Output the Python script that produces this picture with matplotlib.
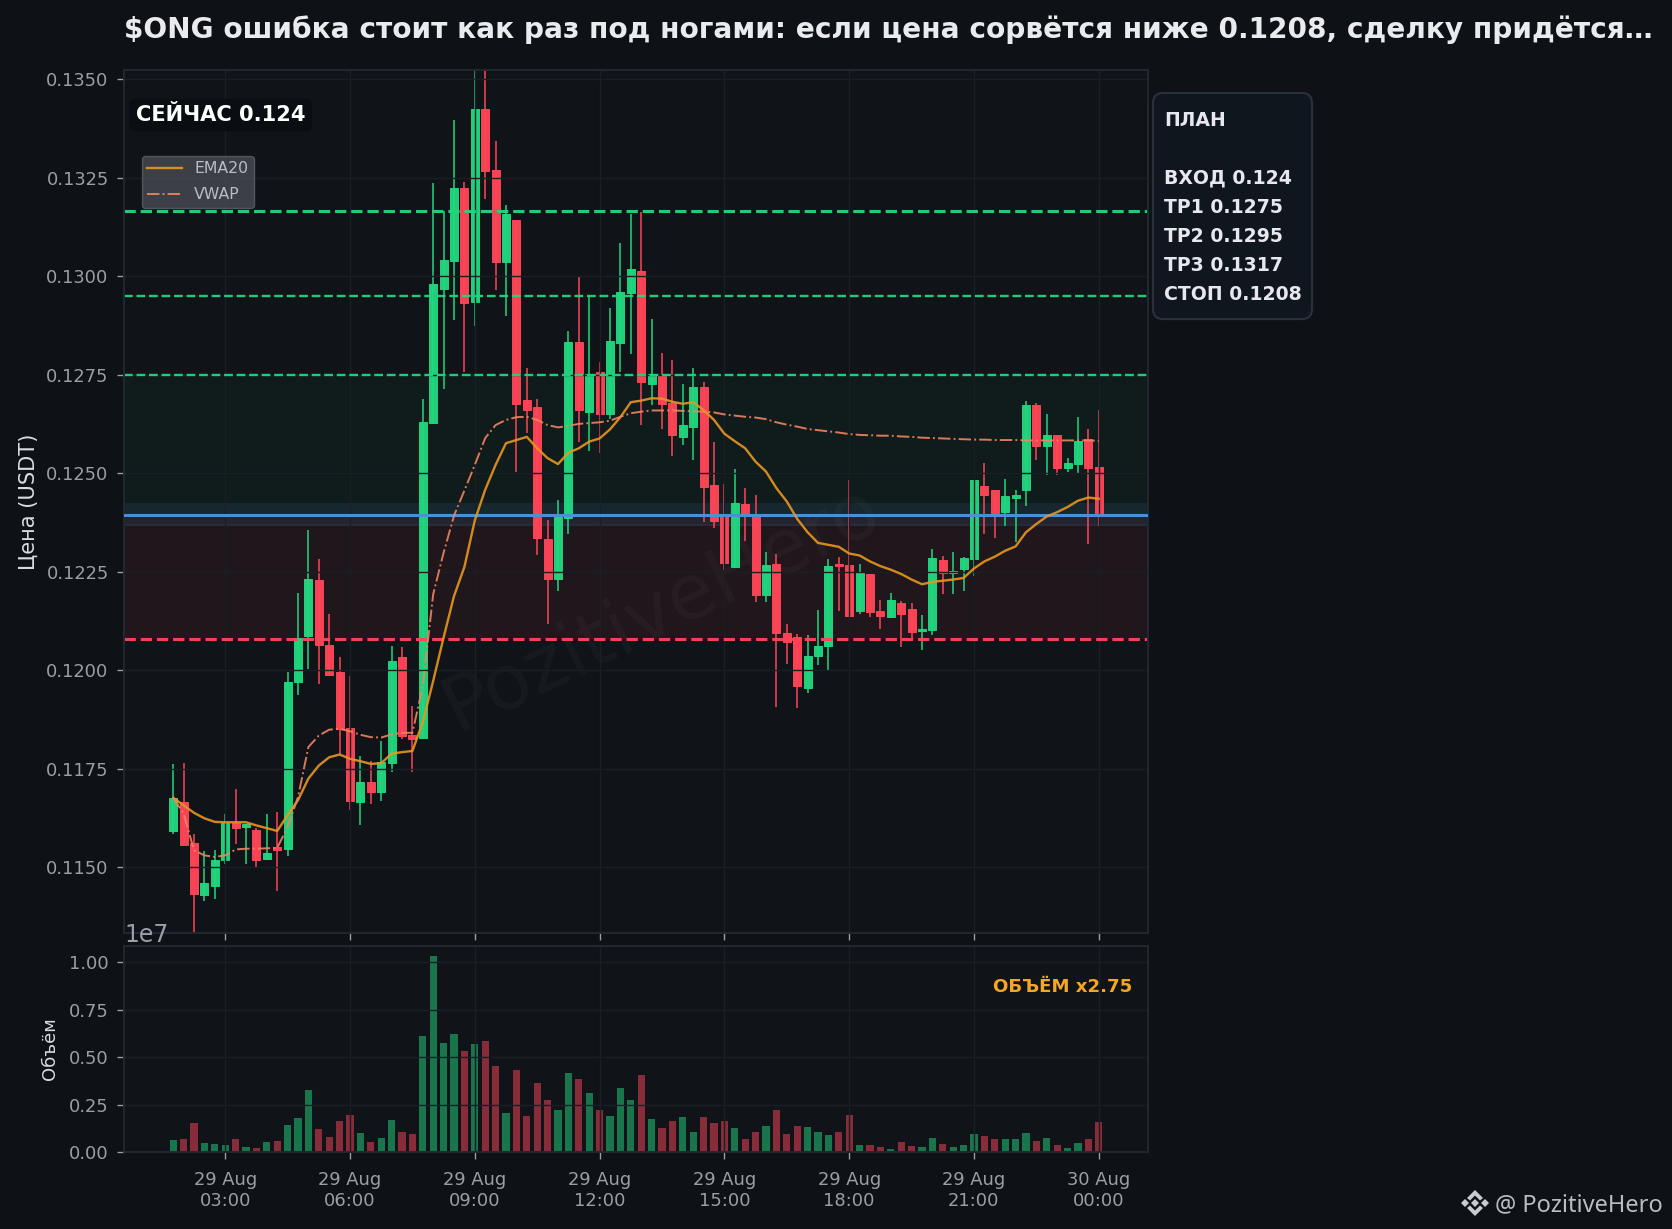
import pandas as pd
import matplotlib
matplotlib.use("Agg")
import matplotlib.pyplot as plt
import matplotlib.dates as mdates
from matplotlib.patches import Polygon, FancyBboxPatch
from matplotlib.transforms import IdentityTransform

# -------------------------
# Data
# -------------------------
start_time = "2025-08-29 01:45"
n_bars = 90

opens = [.11592, .11665, .11562, .1143, .11453, .11517, .11613, .11602, .11595, .11521,
         .11551, .11545, .1197, .12086, .12228, .12064, .11996, .11854, .11665, .11717,
         .11691, .11764, .12033, .11836, .11827, .12627, .12968, .13038, .13224, .12935,
         .13424, .1327, .13036, .13143, .12685, .12667, .12334, .12232, .12387, .12832,
         .12656, .12757, .12649, .12831, .12957, .13014, .12727, .12746, .12677, .12591,
         .12618, .12718, .1247, .12395, .12261, .12422, .12394, .1219, .1227, .12095,
         .12083, .11955, .12037, .12062, .1227, .12267, .1215, .12244, .12151, .12135,
         .12171, .12156, .12099, .12102, .1228, .12246, .12257, .12281, .12467, .12457,
         .12401, .12437, .12456, .12672, .1257, .12596, .12512, .12522, .12586, .12515]
highs = [.11762, .11765, .11583, .1154, .11543, .11636, .11699, .1161, .116, .11636,
         .11639, .11995, .12195, .12355, .12282, .12142, .12033, .11985, .11783, .11769,
         .11819, .12061, .12059, .11909, .12687, .13237, .13165, .13395, .13239, .1358,
         .1358, .13344, .13181, .13143, .12766, .12687, .1238, .12433, .1286, .12999,
         .12949, .12781, .1292, .13085, .13157, .13163, .1289, .12804, .12787, .12726,
         .12768, .12731, .12579, .12472, .1251, .12463, .12445, .123, .12295, .12116,
         .12093, .12088, .12153, .12282, .12287, .12482, .1227, .12244, .12178, .12196,
         .12176, .12171, .1214, .12308, .1229, .123, .12287, .12482, .12525, .12457,
         .12485, .12457, .12682, .12677, .12649, .12596, .12538, .12642, .12611, .1266]
lows = [.11585, .11557, .11336, .11415, .1142, .11508, .11559, .11508, .11501, .11521,
        .1144, .11529, .11936, .12002, .11964, .11987, .11786, .11644, .11606, .1166,
        .11667, .11741, .11825, .11741, .11827, .12627, .12714, .12889, .12757, .12874,
        .13195, .12964, .12898, .12502, .12603, .12291, .12118, .12201, .12345, .12579,
        .12555, .12552, .12638, .12757, .12802, .12622, .12673, .12612, .12544, .12572,
        .12534, .12375, .12362, .12253, .12261, .12327, .12172, .12172, .11906, .12015,
        .11903, .11942, .12012, .11998, .1215, .12137, .12142, .12135, .12104, .12132,
        .12059, .12079, .12051, .12089, .12192, .12194, .122, .12238, .12346, .12336,
        .12367, .12324, .12416, .12534, .12496, .12496, .12503, .12501, .12319, .12365]
closes = [.11676, .11557, .11433, .11459, .11519, .11613, .116, .11609, .11519, .11537,
          .11544, .1197, .12082, .12231, .12063, .11987, .11851, .11668, .11717, .11691,
          .11766, .12023, .11833, .11825, .12629, .12979, .13042, .13224, .12932, .13424,
          .13266, .13036, .13158, .12676, .12659, .12336, .12232, .12388, .12832, .12659,
          .12752, .12649, .12836, .1296, .13017, .1273, .12752, .12676, .12598, .12622,
          .12718, .12466, .12378, .12272, .12423, .12394, .1219, .12267, .12094, .12071,
          .1196, .12037, .12062, .12265, .12264, .12137, .12247, .12147, .12138, .12178,
          .12142, .12097, .12105, .12285, .12247, .12251, .12285, .12482, .12444, .12399,
          .12442, .12444, .12672, .1257, .12596, .12512, .12525, .12581, .12512, .12396]

# volume, in units of 1e7
volumes = [.0615, .067, .151, .046, .04, .035, .067, .025, .019, .051,
           .056, .141, .178, .325, .12, .077, .162, .193, .098, .051,
           .072, .167, .104, .093, .61, 1.032, .573, .62, .531, .568,
           .583, .452, .204, .431, .188, .362, .272, .22, .415, .383,
           .309, .22, .188, .336, .272, .404, .172, .125, .162, .183,
           .104, .183, .151, .162, .125, .067, .104, .135, .22, .093,
           .135, .13, .104, .088, .104, .193, .035, .035, .025, .014,
           .051, .03, .025, .072, .04, .025, .035, .093, .082, .067,
           .067, .067, .098, .056, .072, .035, .019, .046, .067, .156]

ema20 = [.11676, .11657, .11638, .11624, .11615, .11614, .11614, .11614, .11606, .11599,
         .11592, .11632, .1167, .11725, .11758, .11779, .11786, .11775, .11769, .11762,
         .11764, .11788, .11792, .11795, .11868, .11973, .12083, .12188, .12262, .12380,
         .12458, .12521, .12576, .12584, .12592, .12563, .12538, .12523, .12552, .12563,
         .1258, .12588, .12611, .12642, .1268, .12684, .1269, .12689, .12681, .12676,
         .1268, .1266, .12635, .126, .12581, .12563, .12529, .12504, .12462, .12428,
         .12384, .1235, .12323, .12318, .12313, .12296, .12291, .12276, .12264, .12255,
         .12244, .1223, .12218, .12224, .12227, .1223, .12234, .12258, .12276, .12288,
         .12303, .12314, .1235, .12371, .1239, .12401, .12414, .1243, .12438, .12435]
vwap = [.11676, .11636, .11543, .1153, .11526, .1153, .11545, .11547, .11547, .11548,
        .11549, .11602, .11678, .11805, .11834, .11849, .11851, .11845, .11836, .1183,
        .11829, .11837, .11841, .11841, .1196, .12193, .12298, .12392, .12456, .12521,
        .12589, .12622, .12635, .12642, .12643, .12635, .12622, .12616, .1262, .12625,
        .12627, .12629, .12633, .12643, .12652, .12656, .12659, .12659, .12659, .12658,
        .12657, .12656, .12654, .12649, .12646, .12643, .12641, .12637, .12629, .12623,
        .12618, .12612, .12609, .12606, .12603, .12599, .12597, .12596, .12595, .12595,
        .12593, .12592, .1259, .12589, .12588, .12587, .12586, .12585, .12585, .12584,
        .12584, .12584, .12583, .12583, .12583, .12583, .12583, .12583, .12583, .12582]

entry = 0.12395
entry_band = (0.12368, 0.12425)
tp1, tp2, tp3 = 0.1275, 0.1295, 0.13165
stop = 0.1208

title = "$ONG ошибка стоит как раз под ногами: если цена сорвётся ниже 0.1208, сделку придётся…"
plan_text = "ПЛАН\n\nВХОД 0.124\nТР1 0.1275\nТР2 0.1295\nТР3 0.1317\nСТОП 0.1208"

BG = "#0e1116"
AX_BG = "#101419"
GREEN = "#22d67f"
RED = "#ff4557"
GRID = "#1a1f26"
SPINE = "#222831"
TICK = "#9a9ea7"
WIDTH, HEIGHT = 1672, 1229

# -------------------------
# Figure and axes
# -------------------------
fig = plt.figure(figsize=(WIDTH / 100, HEIGHT / 100), dpi=100, facecolor=BG)
ax = fig.add_axes([124 / WIDTH, 1 - 933 / HEIGHT, 1024 / WIDTH, 863 / HEIGHT], facecolor=AX_BG)
ax_vol = fig.add_axes([124 / WIDTH, 1 - 1152 / HEIGHT, 1024 / WIDTH, 206 / HEIGHT],
                      facecolor=AX_BG, sharex=ax)

df = pd.DataFrame({"open": opens, "high": highs, "low": lows, "close": closes,
                   "volume": volumes, "ema": ema20, "vwap": vwap},
                  index=pd.date_range(start_time, periods=n_bars, freq="15min"))
up = df["close"] >= df["open"]
colors = [GREEN if u else RED for u in up]
bar_w = 1 / 96

# -------------------------
# Price panel
# -------------------------
ax.axhspan(entry, tp1, color=GREEN, alpha=0.04, lw=0, zorder=0)
ax.axhspan(stop, entry, color=RED, alpha=0.07, lw=0, zorder=0)
ax.axhspan(entry_band[0], entry_band[1], facecolor="#4a90d9", alpha=0.11, lw=0, zorder=0.5)
ax.axhline(entry_band[0], color="#2a2f3a", lw=1.2, zorder=0.6)

ax.vlines(df.index, df["low"], df["high"], colors=colors, lw=1.1, zorder=0.9)
ax.bar(df.index, (df["close"] - df["open"]).abs(), bottom=df[["open", "close"]].min(axis=1),
       width=bar_w * 0.78, color=colors, edgecolor=colors, lw=0.7, alpha=0.97, zorder=1)

ax.plot(df.index, df["ema"], color="#e8961e", lw=1.7, alpha=0.9, label="EMA20", zorder=3)
ax.plot(df.index, df["vwap"], color="#f0845f", lw=1.4, ls="-.", alpha=0.9, label="VWAP", zorder=3)

ax.axhline(tp1, color=GREEN, lw=1.7, ls="--", alpha=0.95, zorder=2.5)
ax.axhline(tp2, color=GREEN, lw=1.7, ls="--", alpha=0.95, zorder=2.5)
ax.axhline(tp3, color=GREEN, lw=2.2, ls="--", alpha=0.95, zorder=2.5)
ax.axhline(stop, color=RED, lw=2.2, ls="--", alpha=0.95, zorder=2.5)
ax.axhline(entry, color="#4a90d9", lw=2.2, zorder=2.6)

ax.set_ylim(0.11333, 0.13523)
ax.set_yticks([0.115, 0.1175, 0.12, 0.1225, 0.125, 0.1275, 0.13, 0.1325, 0.135])
ax.yaxis.set_major_formatter(lambda v, pos: f"{v:.4f}")
ax.set_xlim(df.index[0] - pd.Timedelta(minutes=71), df.index[-1] + pd.Timedelta(minutes=71))
ax.set_ylabel("Цена (USDT)", color="#d8dbe0", fontsize=15.1)
ax.yaxis.set_label_coords(-(124 - 39) / 1024, 0.5)
ax.tick_params(axis="x", labelbottom=False)

ax.text(12 / 1024, 1 - 45 / 863, "СЕЙЧАС 0.124", transform=ax.transAxes, color="white",
        fontsize=15.1, fontweight="bold", va="center", ha="left", zorder=6,
        bbox=dict(boxstyle="round,pad=0.3", facecolor="#0a0d12", edgecolor="none"))

leg = ax.legend(loc="upper left", bbox_to_anchor=(18 / 1024, 1 - 86 / 863), fontsize=11.3,
                facecolor="#45484f", edgecolor="#5b5e65", framealpha=0.85, labelcolor="#b8bcc5",
                borderaxespad=0, handlelength=2.17, borderpad=0.35, labelspacing=0.68,
                handletextpad=0.8)
leg.set_zorder(6)

ax.text(0.525, 0.375, "PozitiveHero", transform=ax.transAxes, color="#ffffff", alpha=0.03,
        fontsize=55, rotation=26, ha="center", va="center", zorder=0.7)

# plan box, placed in figure pixels
box = FancyBboxPatch((1153, HEIGHT - 319), 159, 226, boxstyle="round,pad=0,rounding_size=10",
                     facecolor="#10161e", edgecolor="#2a303a", lw=1.6, transform=IdentityTransform())
fig.add_artist(box)
fig.text(1164 / WIDTH, 1 - 207.5 / HEIGHT, plan_text, color="#e6e8ee", fontsize=13.6,
         fontweight="bold", va="center", ha="left", linespacing=1.67)

fig.text(124 / WIDTH, 1 - 30 / HEIGHT, title, color="#e9ebef", fontsize=20.2,
         fontweight="bold", ha="left", va="center")

# -------------------------
# Volume panel
# -------------------------
ax_vol.bar(df.index, df["volume"] * 1e7, width=bar_w * 0.68, color=colors, alpha=0.5, lw=0)
ax_vol.set_ylim(0, 1.086e7)
ax_vol.set_yticks([0, 0.25e7, 0.5e7, 0.75e7, 1e7])
ax_vol.set_ylabel("Объём", color="#d8dbe0", fontsize=13)
ax_vol.yaxis.set_label_coords(-(124 - 59) / 1024, 0.5)
ax_vol.text(0.985, 0.80, "ОБЪЁМ x2.75", transform=ax_vol.transAxes, color="#f5a623",
            fontsize=13.1, fontweight="bold", ha="right", va="center")
ax_vol.xaxis.set_major_locator(mdates.HourLocator(byhour=range(0, 24, 3)))
ax_vol.xaxis.set_major_formatter(mdates.DateFormatter("%d %b\n%H:%M"))
ax_vol.yaxis.get_offset_text().set_color(TICK)
ax_vol.yaxis.get_offset_text().set_fontsize(17)

for a in (ax, ax_vol):
    a.grid(True, color=GRID, lw=1.0)
    a.tick_params(colors=TICK, labelsize=12.9, length=5, width=1.0)
    a.tick_params(axis="y", pad=6)
    a.tick_params(axis="x", pad=9)
    for s in a.spines.values():
        s.set_color(SPINE)
        s.set_linewidth(1.4)

# -------------------------
# Footer: logo and handle
# -------------------------
def pixel_poly(points):
    pts = [(x, HEIGHT - y) for x, y in points]
    fig.add_artist(Polygon(pts, closed=True, facecolor="#c9ccd2", edgecolor="none",
                           transform=IdentityTransform()))

cx, cy = 1475, 1203
d = 4
for dx, dy in [(0, 0), (-10, 0), (10, 0)]:
    pixel_poly([(cx + dx, cy + dy - d), (cx + dx + d, cy + dy), (cx + dx, cy + dy + d), (cx + dx - d, cy + dy)])
for sign in (-1, 1):
    pixel_poly([(cx, cy + sign * 13), (cx + 8, cy + sign * 5), (cx + 5, cy + sign * 2.5),
                (cx, cy + sign * 7.5), (cx - 5, cy + sign * 2.5), (cx - 8, cy + sign * 5)])

fig.text(1495 / WIDTH, 1 - 1205 / HEIGHT, "@ PozitiveHero", color="#b8bcc5", fontsize=17,
         family="Noto Sans", ha="left", va="center")

fig.savefig("out.png", dpi=100, facecolor=BG)
